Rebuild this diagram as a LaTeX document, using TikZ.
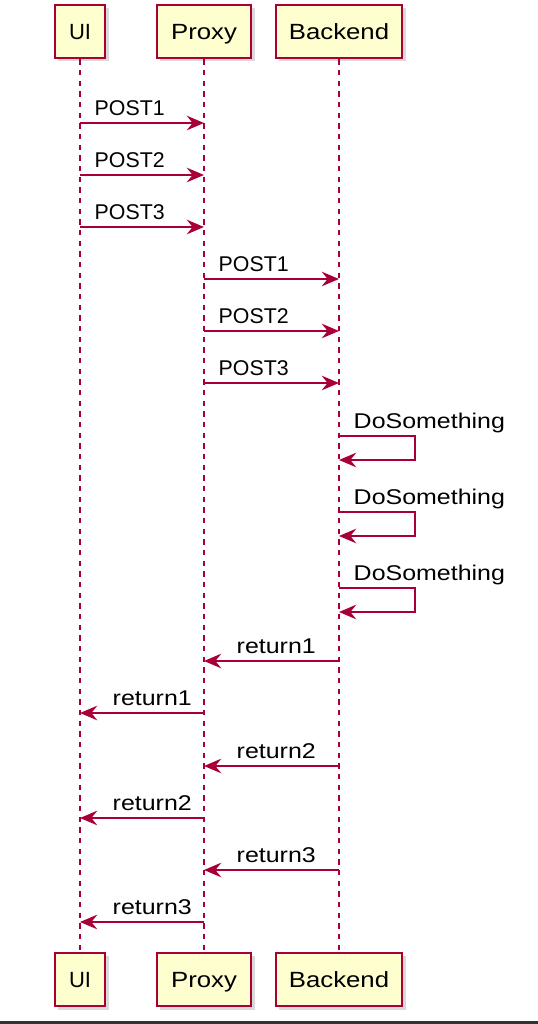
\documentclass[tikz,border=0pt]{standalone}
\usepackage{fontspec}
\setmainfont{Liberation Sans}
\newfontfamily\widefont[FakeStretch=1.17]{Liberation Sans}
\usetikzlibrary{arrows.meta,shadows}
\definecolor{umlred}{HTML}{A80036}
\definecolor{umlfill}{HTML}{FEFECE}
\definecolor{frameline}{HTML}{2F3336}
\tikzset{
  part/.style={draw=umlred, line width=1.6pt, fill=umlfill, minimum height=40pt, inner xsep=0pt,
    text height=12pt, text depth=0pt, font=\fontsize{16.5pt}{19pt}\selectfont,
    drop shadow={shadow xshift=2.5pt, shadow yshift=-2.5pt, opacity=0.3}},
  life/.style={draw=umlred, line width=0.9pt, dash pattern=on 4pt off 4pt},
  msg/.style={draw=umlred, line width=1.1pt, -{Stealth[length=13pt,width=11pt,inset=4.5pt]}},
  lbl/.style={inner sep=0pt, anchor=base west, yshift=6pt, font=\fontsize{16pt}{19pt}\selectfont},
  rlbl/.style={lbl, pos=0, xshift=10.5pt},
  llbl/.style={lbl, pos=1, xshift=24pt},
}
\begin{document}
\begin{tikzpicture}[x=0.75pt,y=-0.75pt]
                \useasboundingbox (0,0) rectangle (538,1024);

                \node[part, minimum width=38pt] (ui) at (80,31.5) {UI};
                \node[part, minimum width=71pt] (proxy) at (204,31.5) {\widefont Proxy};
                \node[part, minimum width=95pt] (backend) at (339,31.5) {\widefont Backend};
                \node[part, minimum width=38pt] (uib) at (80,979.5) {UI};
                \node[part, minimum width=71pt] (proxyb) at (204,979.5) {\widefont Proxy};
                \node[part, minimum width=95pt] (backendb) at (339,979.5) {\widefont Backend};

                \draw[life] (ui.south) -- (uib.north);
                \draw[life] (proxy.south) -- (proxyb.north);
                \draw[life] (backend.south) -- (backendb.north);

                \foreach \n/\y in {1/123,2/175,3/227}
                    \draw[msg] (ui |- 0,\y) -- node[rlbl] {POST\n} (proxy |- 0,\y);
                \foreach \n/\y in {1/279,2/331,3/383}
                    \draw[msg] (proxy |- 0,\y) -- node[rlbl] {POST\n} (backend |- 0,\y);

                \foreach \y in {436,512,588}
                    \draw[msg] (backend |- 0,\y) -- node[rlbl] {\widefont DoSomething} ++(76,0)
                        -- ++(0,24) -- (backend |- 0,\y+24);

                \foreach \n/\y in {1/661,2/766,3/870} {
                    \draw[msg] (backend |- 0,\y) -- node[llbl] {\widefont return\n} (proxy |- 0,\y);
                    \draw[msg] (proxy |- 0,\y+52) -- node[llbl] {\widefont return\n} (ui |- 0,\y+52);
                }

                \draw[frameline, line width=2.5pt] (0,1022.5) -- (538,1022.5);
\end{tikzpicture}
\end{document}
